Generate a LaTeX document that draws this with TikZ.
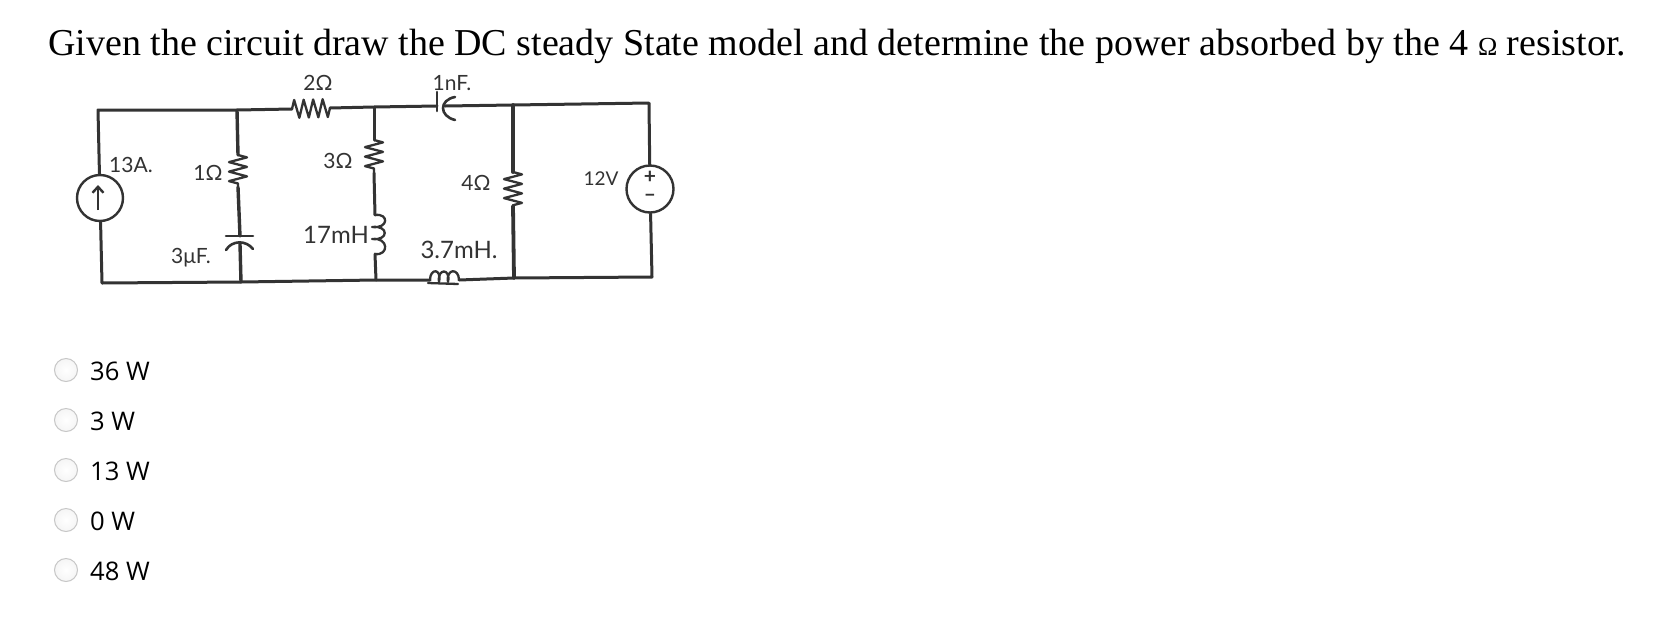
\documentclass[tikz,border=0pt]{standalone}
\usepackage{fontspec}
\setmainfont{Liberation Serif}
\newfontfamily\optfont{Open Sans}
\newfontfamily\handfont{Lato}
\usetikzlibrary{decorations.pathmorphing,arrows.meta}
\definecolor{ink}{HTML}{333333}
\tikzset{
  x=1pt,y=-1pt,
  wire/.style={draw=ink,line width=3pt,line cap=round,line join=round},
  res/.style={draw=ink,line width=2.3pt,line join=round,decorate,decoration={zigzag,segment length=9.5pt,amplitude=9pt}},
  coilpath/.style={draw=ink,line width=2.3pt,line cap=round,line join=round},
  source/.style={circle,draw=ink,line width=2.4pt,minimum size=46pt,inner sep=0pt,fill=white},
  hand/.style={inner sep=0pt,text=ink,font=\handfont\fontsize{21}{21}\selectfont},
  handbig/.style={inner sep=0pt,text=ink,font=\handfont\fontsize{24}{24}\selectfont},
  title/.style={inner sep=0pt,anchor=base west,text=black,font=\fontsize{38}{40}\selectfont},
  opt/.style={inner sep=0pt,anchor=base west,text=black,font=\optfont\fontsize{25.6}{28}\selectfont},
  radio/.style={circle,draw=black!22,line width=1pt,minimum size=23pt,inner sep=0pt,inner color=white,outer color=black!4}
}
\begin{document}
\begin{tikzpicture}
\useasboundingbox[fill=white] (0,0) rectangle (1674,622);
\node[title] (q) at (48,55) {Given the circuit draw the DC steady State model and determine the power absorbed by the 4 {\fontsize{26}{26}\selectfont Ω} resistor.};

% corners and junctions
\coordinate (tl) at (98,110);
\coordinate (bl) at (102,283);
\coordinate (ja) at (237,110);
\coordinate (jab) at (241,282);
\coordinate (r2a) at (292,109);
\coordinate (r2b) at (330,108);
\coordinate (jb) at (374,107);
\coordinate (jbb) at (376,280);
\coordinate (c1a) at (437,106);
\coordinate (c1b) at (445,106);
\coordinate (jc) at (513,105);
\coordinate (jcb) at (514,278);
\coordinate (tr) at (649,103);
\coordinate (br) at (652,277);
\coordinate (r1a) at (238,155);
\coordinate (r1b) at (238,187);
\coordinate (c3a) at (240,236);
\coordinate (c3b) at (240,244);
\coordinate (r3a) at (374,140);
\coordinate (r3b) at (374,173);
\coordinate (l1a) at (375,215);
\coordinate (l1b) at (375,254);
\coordinate (r4a) at (513,172);
\coordinate (r4b) at (513,206);
\coordinate (l2a) at (430,280);
\coordinate (l2b) at (459,280);

\node[source] (is) at (100,198) {};
\node[source,minimum size=47pt] (vs) at (650,189) {};

% wires
\draw[wire] (is) -- (tl) -- (ja) -- (r2a);
\draw[wire] (is) -- (bl) -- (jab) -- (jbb) -- (l2a);
\draw[wire] (r2b) -- (jb) -- (c1a);
\draw[wire] (c1b) -- (jc) -- (tr) -- (vs);
\draw[wire] (vs) -- (br) -- (jcb) -- (l2b);
\draw[wire,line width=3.4pt] (ja) -- (r1a);
\draw[wire,line width=3.4pt] (r1b) -- (c3a);
\draw[wire,line width=3.4pt] (c3b) -- (jab);
\draw[wire] (jb) -- (r3a);
\draw[wire] (r3b) -- (l1a);
\draw[wire] (l1b) -- (jbb);
\draw[wire,line width=3.8pt] (jc) -- (r4a);
\draw[wire,line width=3.8pt] (r4b) -- (jcb);

% resistors
\draw[res] (r2a) -- (r2b);
\draw[res] (r1a) -- (r1b);
\draw[res] (r3a) -- (r3b);
\draw[res] (r4a) -- (r4b);

% inductors
\draw[coilpath] (l1a) .. controls (389,213) and (389,229) .. (372,227)
  .. controls (389,225) and (389,241) .. (372,239)
  .. controls (389,237) and (389,256) .. (l1b);
\draw[coilpath] (l2a) .. controls (430,268) and (442,268) .. (439,282)
  .. controls (437,268) and (451,268) .. (448,282)
  .. controls (446,268) and (459,268) .. (l2b);
\draw[coilpath] (428,283) -- (458,284);

% capacitors
\draw[wire,line width=2.6pt] ([yshift=-5pt]c1a) -- ([yshift=14pt]c1a);
\draw[wire,line width=2.6pt] (455,97) .. controls (439,100) and (439,116) .. (455,120);
\draw[wire,line width=2.6pt] ([xshift=-14pt]c3a) -- ([xshift=13pt]c3a);
\draw[wire,line width=2.6pt] (226,250) .. controls (232,240) and (246,240) .. (253,249);

% source symbols
\draw[draw=ink,line width=2.4pt,-{Straight Barb[length=6pt,width=11pt]}] (98,210) -- (98,185);
\node[inner sep=0pt,text=ink,font=\bfseries\handfont\fontsize{21}{21}\selectfont] (plus) at (650,177) {+};
\node[inner sep=0pt,text=ink,font=\bfseries\handfont\fontsize{21}{21}\selectfont] (minus) at (650,198) {–};

% labels
\node[hand] (l13) at (131,165) {13A.};
\node[hand] (l1r) at (208,173) {1Ω};
\node[hand] (l2r) at (318,83) {2Ω};
\node[hand] (l3r) at (338,161) {3Ω};
\node[hand] (l4r) at (476,183) {4Ω};
\node[hand] (l1n) at (452,83) {1nF.};
\node[hand] (l3u) at (191,258) {3μF.};
\node[handbig] (l17) at (336,235) {17mH};
\node[handbig] (l37) at (459,250) {3.7mH.};
\node[font=\handfont\fontsize{19}{19}\selectfont,inner sep=0pt,text=ink] (l12) at (601,179) {12V};

% answers
\foreach \n/\yy/\t in {a/370/36 W,b/420/3 W,c/470/13 W,d/520/0 W,e/570/48 W}{
  \node[radio] (rb\n) at (66,\yy) {};
  \node[opt] (tx\n) at (90,\yy+10) {\t};
}
\end{tikzpicture}
\end{document}
